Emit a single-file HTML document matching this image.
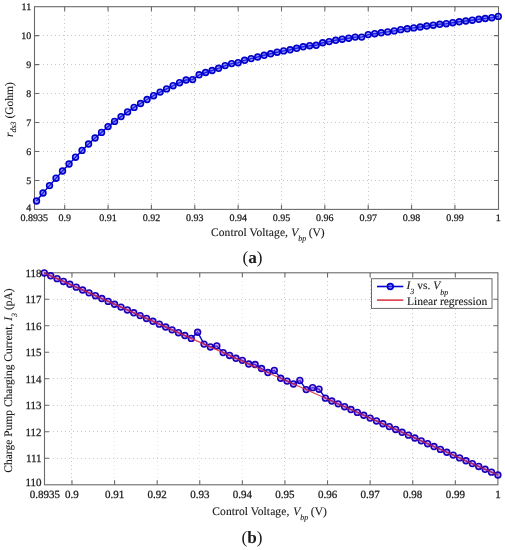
<!DOCTYPE html>
<html><head><meta charset="utf-8"><title>Plots</title>
<style>html,body{margin:0;padding:0;background:#fff;width:505px;height:550px;overflow:hidden}svg{display:block}</style>
</head><body>
<svg width="505" height="550" viewBox="0 0 505 550">
<style>.g{stroke:#c8c8c8;stroke-width:1;stroke-dasharray:1 3;fill:none}.ax{stroke:#6a6a6a;stroke-width:1.1;fill:none}.lb{stroke-width:0.12px}text{font-family:'Liberation Serif', 'Times New Roman', serif;fill:#1a1a1a;stroke:#1a1a1a;stroke-width:0.25px;text-rendering:geometricPrecision}</style>
<rect width="505" height="550" fill="#fff"/>
<line x1="64.5" y1="7" x2="64.5" y2="209.4" class="g"/>
<line x1="108.5" y1="7" x2="108.5" y2="209.4" class="g"/>
<line x1="151.5" y1="7" x2="151.5" y2="209.4" class="g"/>
<line x1="194.5" y1="7" x2="194.5" y2="209.4" class="g"/>
<line x1="238.5" y1="7" x2="238.5" y2="209.4" class="g"/>
<line x1="281.5" y1="7" x2="281.5" y2="209.4" class="g"/>
<line x1="324.5" y1="7" x2="324.5" y2="209.4" class="g"/>
<line x1="368.5" y1="7" x2="368.5" y2="209.4" class="g"/>
<line x1="411.5" y1="7" x2="411.5" y2="209.4" class="g"/>
<line x1="454.5" y1="7" x2="454.5" y2="209.4" class="g"/>
<line x1="35" y1="180.5" x2="498.5" y2="180.5" class="g"/>
<line x1="35" y1="151.5" x2="498.5" y2="151.5" class="g"/>
<line x1="35" y1="122.5" x2="498.5" y2="122.5" class="g"/>
<line x1="35" y1="93.5" x2="498.5" y2="93.5" class="g"/>
<line x1="35" y1="64.5" x2="498.5" y2="64.5" class="g"/>
<line x1="35" y1="35.5" x2="498.5" y2="35.5" class="g"/>
<path d="M64.7 209.4V204.8M64.7 6.7V11.3M108.06 209.4V204.8M108.06 6.7V11.3M151.42 209.4V204.8M151.42 6.7V11.3M194.78 209.4V204.8M194.78 6.7V11.3M238.14 209.4V204.8M238.14 6.7V11.3M281.5 209.4V204.8M281.5 6.7V11.3M324.86 209.4V204.8M324.86 6.7V11.3M368.22 209.4V204.8M368.22 6.7V11.3M411.58 209.4V204.8M411.58 6.7V11.3M454.94 209.4V204.8M454.94 6.7V11.3M34.5 180.44H39.1M498.5 180.44H493.9M34.5 151.49H39.1M498.5 151.49H493.9M34.5 122.53H39.1M498.5 122.53H493.9M34.5 93.57H39.1M498.5 93.57H493.9M34.5 64.61H39.1M498.5 64.61H493.9M34.5 35.66H39.1M498.5 35.66H493.9" class="ax"/>
<rect x="34.5" y="6.7" width="464" height="202.7" class="ax" fill="none"/>
<polyline points="36.52,201 43.02,193 49.53,185.6 56.03,178.2 62.53,171 69.04,164 75.54,157.2 82.05,150.4 88.55,144 95.05,138 101.56,132.4 108.06,126.6 114.57,121.4 121.07,116.6 127.57,111.9 134.08,107.4 140.58,103.5 147.09,99.5 153.59,95.7 160.09,92.1 166.6,88.9 173.1,85.7 179.61,82.7 186.11,80 192.61,79.6 199.12,74.8 205.62,72.5 212.13,70.5 218.63,68.3 225.13,65.6 231.64,63.6 238.14,62.7 244.65,60.3 251.15,58.6 257.65,57 264.16,55.3 270.66,53.8 277.17,52.2 283.67,50.9 290.17,49.8 296.68,48.3 303.18,46.8 309.69,45.7 316.19,45.3 322.69,42.75 329.2,41.6 335.7,40.3 342.21,39.2 348.71,38.2 355.21,37.1 361.72,37.1 368.22,34.6 374.73,33.7 381.23,32.8 387.73,31.9 394.24,30.9 400.74,29.65 407.25,28.8 413.75,27.9 420.25,27 426.76,26 433.26,25.2 439.77,24.3 446.27,23.7 452.77,22.7 459.28,21.8 465.78,21 472.29,20.2 478.79,19.3 485.29,18.5 491.8,17.7 498.3,16.4" fill="none" stroke="#0000d4" stroke-width="1.4"/>
<circle cx="36.52" cy="201" r="2.9" fill="#3c3cff" fill-opacity="0.5" stroke="#0000c8" stroke-width="1.6"/>
<circle cx="43.02" cy="193" r="2.9" fill="#3c3cff" fill-opacity="0.5" stroke="#0000c8" stroke-width="1.6"/>
<circle cx="49.53" cy="185.6" r="2.9" fill="#3c3cff" fill-opacity="0.5" stroke="#0000c8" stroke-width="1.6"/>
<circle cx="56.03" cy="178.2" r="2.9" fill="#3c3cff" fill-opacity="0.5" stroke="#0000c8" stroke-width="1.6"/>
<circle cx="62.53" cy="171" r="2.9" fill="#3c3cff" fill-opacity="0.5" stroke="#0000c8" stroke-width="1.6"/>
<circle cx="69.04" cy="164" r="2.9" fill="#3c3cff" fill-opacity="0.5" stroke="#0000c8" stroke-width="1.6"/>
<circle cx="75.54" cy="157.2" r="2.9" fill="#3c3cff" fill-opacity="0.5" stroke="#0000c8" stroke-width="1.6"/>
<circle cx="82.05" cy="150.4" r="2.9" fill="#3c3cff" fill-opacity="0.5" stroke="#0000c8" stroke-width="1.6"/>
<circle cx="88.55" cy="144" r="2.9" fill="#3c3cff" fill-opacity="0.5" stroke="#0000c8" stroke-width="1.6"/>
<circle cx="95.05" cy="138" r="2.9" fill="#3c3cff" fill-opacity="0.5" stroke="#0000c8" stroke-width="1.6"/>
<circle cx="101.56" cy="132.4" r="2.9" fill="#3c3cff" fill-opacity="0.5" stroke="#0000c8" stroke-width="1.6"/>
<circle cx="108.06" cy="126.6" r="2.9" fill="#3c3cff" fill-opacity="0.5" stroke="#0000c8" stroke-width="1.6"/>
<circle cx="114.57" cy="121.4" r="2.9" fill="#3c3cff" fill-opacity="0.5" stroke="#0000c8" stroke-width="1.6"/>
<circle cx="121.07" cy="116.6" r="2.9" fill="#3c3cff" fill-opacity="0.5" stroke="#0000c8" stroke-width="1.6"/>
<circle cx="127.57" cy="111.9" r="2.9" fill="#3c3cff" fill-opacity="0.5" stroke="#0000c8" stroke-width="1.6"/>
<circle cx="134.08" cy="107.4" r="2.9" fill="#3c3cff" fill-opacity="0.5" stroke="#0000c8" stroke-width="1.6"/>
<circle cx="140.58" cy="103.5" r="2.9" fill="#3c3cff" fill-opacity="0.5" stroke="#0000c8" stroke-width="1.6"/>
<circle cx="147.09" cy="99.5" r="2.9" fill="#3c3cff" fill-opacity="0.5" stroke="#0000c8" stroke-width="1.6"/>
<circle cx="153.59" cy="95.7" r="2.9" fill="#3c3cff" fill-opacity="0.5" stroke="#0000c8" stroke-width="1.6"/>
<circle cx="160.09" cy="92.1" r="2.9" fill="#3c3cff" fill-opacity="0.5" stroke="#0000c8" stroke-width="1.6"/>
<circle cx="166.6" cy="88.9" r="2.9" fill="#3c3cff" fill-opacity="0.5" stroke="#0000c8" stroke-width="1.6"/>
<circle cx="173.1" cy="85.7" r="2.9" fill="#3c3cff" fill-opacity="0.5" stroke="#0000c8" stroke-width="1.6"/>
<circle cx="179.61" cy="82.7" r="2.9" fill="#3c3cff" fill-opacity="0.5" stroke="#0000c8" stroke-width="1.6"/>
<circle cx="186.11" cy="80" r="2.9" fill="#3c3cff" fill-opacity="0.5" stroke="#0000c8" stroke-width="1.6"/>
<circle cx="192.61" cy="79.6" r="2.9" fill="#3c3cff" fill-opacity="0.5" stroke="#0000c8" stroke-width="1.6"/>
<circle cx="199.12" cy="74.8" r="2.9" fill="#3c3cff" fill-opacity="0.5" stroke="#0000c8" stroke-width="1.6"/>
<circle cx="205.62" cy="72.5" r="2.9" fill="#3c3cff" fill-opacity="0.5" stroke="#0000c8" stroke-width="1.6"/>
<circle cx="212.13" cy="70.5" r="2.9" fill="#3c3cff" fill-opacity="0.5" stroke="#0000c8" stroke-width="1.6"/>
<circle cx="218.63" cy="68.3" r="2.9" fill="#3c3cff" fill-opacity="0.5" stroke="#0000c8" stroke-width="1.6"/>
<circle cx="225.13" cy="65.6" r="2.9" fill="#3c3cff" fill-opacity="0.5" stroke="#0000c8" stroke-width="1.6"/>
<circle cx="231.64" cy="63.6" r="2.9" fill="#3c3cff" fill-opacity="0.5" stroke="#0000c8" stroke-width="1.6"/>
<circle cx="238.14" cy="62.7" r="2.9" fill="#3c3cff" fill-opacity="0.5" stroke="#0000c8" stroke-width="1.6"/>
<circle cx="244.65" cy="60.3" r="2.9" fill="#3c3cff" fill-opacity="0.5" stroke="#0000c8" stroke-width="1.6"/>
<circle cx="251.15" cy="58.6" r="2.9" fill="#3c3cff" fill-opacity="0.5" stroke="#0000c8" stroke-width="1.6"/>
<circle cx="257.65" cy="57" r="2.9" fill="#3c3cff" fill-opacity="0.5" stroke="#0000c8" stroke-width="1.6"/>
<circle cx="264.16" cy="55.3" r="2.9" fill="#3c3cff" fill-opacity="0.5" stroke="#0000c8" stroke-width="1.6"/>
<circle cx="270.66" cy="53.8" r="2.9" fill="#3c3cff" fill-opacity="0.5" stroke="#0000c8" stroke-width="1.6"/>
<circle cx="277.17" cy="52.2" r="2.9" fill="#3c3cff" fill-opacity="0.5" stroke="#0000c8" stroke-width="1.6"/>
<circle cx="283.67" cy="50.9" r="2.9" fill="#3c3cff" fill-opacity="0.5" stroke="#0000c8" stroke-width="1.6"/>
<circle cx="290.17" cy="49.8" r="2.9" fill="#3c3cff" fill-opacity="0.5" stroke="#0000c8" stroke-width="1.6"/>
<circle cx="296.68" cy="48.3" r="2.9" fill="#3c3cff" fill-opacity="0.5" stroke="#0000c8" stroke-width="1.6"/>
<circle cx="303.18" cy="46.8" r="2.9" fill="#3c3cff" fill-opacity="0.5" stroke="#0000c8" stroke-width="1.6"/>
<circle cx="309.69" cy="45.7" r="2.9" fill="#3c3cff" fill-opacity="0.5" stroke="#0000c8" stroke-width="1.6"/>
<circle cx="316.19" cy="45.3" r="2.9" fill="#3c3cff" fill-opacity="0.5" stroke="#0000c8" stroke-width="1.6"/>
<circle cx="322.69" cy="42.75" r="2.9" fill="#3c3cff" fill-opacity="0.5" stroke="#0000c8" stroke-width="1.6"/>
<circle cx="329.2" cy="41.6" r="2.9" fill="#3c3cff" fill-opacity="0.5" stroke="#0000c8" stroke-width="1.6"/>
<circle cx="335.7" cy="40.3" r="2.9" fill="#3c3cff" fill-opacity="0.5" stroke="#0000c8" stroke-width="1.6"/>
<circle cx="342.21" cy="39.2" r="2.9" fill="#3c3cff" fill-opacity="0.5" stroke="#0000c8" stroke-width="1.6"/>
<circle cx="348.71" cy="38.2" r="2.9" fill="#3c3cff" fill-opacity="0.5" stroke="#0000c8" stroke-width="1.6"/>
<circle cx="355.21" cy="37.1" r="2.9" fill="#3c3cff" fill-opacity="0.5" stroke="#0000c8" stroke-width="1.6"/>
<circle cx="361.72" cy="37.1" r="2.9" fill="#3c3cff" fill-opacity="0.5" stroke="#0000c8" stroke-width="1.6"/>
<circle cx="368.22" cy="34.6" r="2.9" fill="#3c3cff" fill-opacity="0.5" stroke="#0000c8" stroke-width="1.6"/>
<circle cx="374.73" cy="33.7" r="2.9" fill="#3c3cff" fill-opacity="0.5" stroke="#0000c8" stroke-width="1.6"/>
<circle cx="381.23" cy="32.8" r="2.9" fill="#3c3cff" fill-opacity="0.5" stroke="#0000c8" stroke-width="1.6"/>
<circle cx="387.73" cy="31.9" r="2.9" fill="#3c3cff" fill-opacity="0.5" stroke="#0000c8" stroke-width="1.6"/>
<circle cx="394.24" cy="30.9" r="2.9" fill="#3c3cff" fill-opacity="0.5" stroke="#0000c8" stroke-width="1.6"/>
<circle cx="400.74" cy="29.65" r="2.9" fill="#3c3cff" fill-opacity="0.5" stroke="#0000c8" stroke-width="1.6"/>
<circle cx="407.25" cy="28.8" r="2.9" fill="#3c3cff" fill-opacity="0.5" stroke="#0000c8" stroke-width="1.6"/>
<circle cx="413.75" cy="27.9" r="2.9" fill="#3c3cff" fill-opacity="0.5" stroke="#0000c8" stroke-width="1.6"/>
<circle cx="420.25" cy="27" r="2.9" fill="#3c3cff" fill-opacity="0.5" stroke="#0000c8" stroke-width="1.6"/>
<circle cx="426.76" cy="26" r="2.9" fill="#3c3cff" fill-opacity="0.5" stroke="#0000c8" stroke-width="1.6"/>
<circle cx="433.26" cy="25.2" r="2.9" fill="#3c3cff" fill-opacity="0.5" stroke="#0000c8" stroke-width="1.6"/>
<circle cx="439.77" cy="24.3" r="2.9" fill="#3c3cff" fill-opacity="0.5" stroke="#0000c8" stroke-width="1.6"/>
<circle cx="446.27" cy="23.7" r="2.9" fill="#3c3cff" fill-opacity="0.5" stroke="#0000c8" stroke-width="1.6"/>
<circle cx="452.77" cy="22.7" r="2.9" fill="#3c3cff" fill-opacity="0.5" stroke="#0000c8" stroke-width="1.6"/>
<circle cx="459.28" cy="21.8" r="2.9" fill="#3c3cff" fill-opacity="0.5" stroke="#0000c8" stroke-width="1.6"/>
<circle cx="465.78" cy="21" r="2.9" fill="#3c3cff" fill-opacity="0.5" stroke="#0000c8" stroke-width="1.6"/>
<circle cx="472.29" cy="20.2" r="2.9" fill="#3c3cff" fill-opacity="0.5" stroke="#0000c8" stroke-width="1.6"/>
<circle cx="478.79" cy="19.3" r="2.9" fill="#3c3cff" fill-opacity="0.5" stroke="#0000c8" stroke-width="1.6"/>
<circle cx="485.29" cy="18.5" r="2.9" fill="#3c3cff" fill-opacity="0.5" stroke="#0000c8" stroke-width="1.6"/>
<circle cx="491.8" cy="17.7" r="2.9" fill="#3c3cff" fill-opacity="0.5" stroke="#0000c8" stroke-width="1.6"/>
<circle cx="498.3" cy="16.4" r="2.9" fill="#3c3cff" fill-opacity="0.5" stroke="#0000c8" stroke-width="1.6"/>
<text x="31.2" y="210.8" font-size="10" text-anchor="end">4</text>
<text x="31.2" y="183.84" font-size="10" text-anchor="end">5</text>
<text x="31.2" y="154.89" font-size="10" text-anchor="end">6</text>
<text x="31.2" y="125.93" font-size="10" text-anchor="end">7</text>
<text x="31.2" y="96.97" font-size="10" text-anchor="end">8</text>
<text x="31.2" y="68.01" font-size="10" text-anchor="end">9</text>
<text x="31.2" y="39.06" font-size="10" text-anchor="end">10</text>
<text x="31.2" y="10.1" font-size="10" text-anchor="end">11</text>
<text x="34.2" y="220.6" font-size="10" text-anchor="middle">0.8935</text>
<text x="64.7" y="220.6" font-size="10" text-anchor="middle">0.9</text>
<text x="108.06" y="220.6" font-size="10" text-anchor="middle">0.91</text>
<text x="151.42" y="220.6" font-size="10" text-anchor="middle">0.92</text>
<text x="194.78" y="220.6" font-size="10" text-anchor="middle">0.93</text>
<text x="238.14" y="220.6" font-size="10" text-anchor="middle">0.94</text>
<text x="281.5" y="220.6" font-size="10" text-anchor="middle">0.95</text>
<text x="324.86" y="220.6" font-size="10" text-anchor="middle">0.96</text>
<text x="368.22" y="220.6" font-size="10" text-anchor="middle">0.97</text>
<text x="411.58" y="220.6" font-size="10" text-anchor="middle">0.98</text>
<text x="454.94" y="220.6" font-size="10" text-anchor="middle">0.99</text>
<text x="498.3" y="220.6" font-size="10" text-anchor="middle">1</text>
<text class="lb" x="211" y="235.8" font-size="11.5"><tspan letter-spacing="0.09">Control Voltage,</tspan> <tspan font-style="italic" dx="0.4">V</tspan><tspan font-style="italic" font-size="8" dy="5">bp</tspan><tspan dy="-5" dx="-0.5"> (V)</tspan></text>
<text x="242.5" y="262.7" font-size="17.2" style="stroke:none">(<tspan font-weight="bold">a</tspan>)</text>
<text transform="translate(12.6,137) rotate(-90)" class="lb" font-size="11.5"><tspan font-style="italic">r</tspan><tspan font-style="italic" font-size="8" dy="3.8">ds3</tspan><tspan dy="-3.8"> (Gohm)</tspan></text>
<line x1="71.5" y1="273" x2="71.5" y2="484.8" class="g"/>
<line x1="114.5" y1="273" x2="114.5" y2="484.8" class="g" style="stroke:#e2e2e2"/>
<line x1="157.5" y1="273" x2="157.5" y2="484.8" class="g" style="stroke:#e2e2e2"/>
<line x1="199.5" y1="273" x2="199.5" y2="484.8" class="g" style="stroke:#e2e2e2"/>
<line x1="242.5" y1="273" x2="242.5" y2="484.8" class="g" style="stroke:#e2e2e2"/>
<line x1="284.5" y1="273" x2="284.5" y2="484.8" class="g"/>
<line x1="327.5" y1="273" x2="327.5" y2="484.8" class="g"/>
<line x1="370.5" y1="273" x2="370.5" y2="484.8" class="g"/>
<line x1="412.5" y1="273" x2="412.5" y2="484.8" class="g"/>
<line x1="455.5" y1="273" x2="455.5" y2="484.8" class="g"/>
<line x1="45" y1="458.5" x2="497.9" y2="458.5" class="g"/>
<line x1="45" y1="431.5" x2="497.9" y2="431.5" class="g"/>
<line x1="45" y1="405.5" x2="497.9" y2="405.5" class="g"/>
<line x1="45" y1="378.5" x2="497.9" y2="378.5" class="g"/>
<line x1="45" y1="352.5" x2="497.9" y2="352.5" class="g" style="stroke:#ececec"/>
<line x1="45" y1="325.5" x2="497.9" y2="325.5" class="g"/>
<line x1="45" y1="299.5" x2="497.9" y2="299.5" class="g"/>
<path d="M71.98 484.8V480.3M71.98 272.8V277.3M114.58 484.8V480.3M114.58 272.8V277.3M157.17 484.8V480.3M157.17 272.8V277.3M199.76 484.8V480.3M199.76 272.8V277.3M242.35 484.8V480.3M242.35 272.8V277.3M284.94 484.8V480.3M284.94 272.8V277.3M327.53 484.8V480.3M327.53 272.8V277.3M370.13 484.8V480.3M370.13 272.8V277.3M412.72 484.8V480.3M412.72 272.8V277.3M455.31 484.8V480.3M455.31 272.8V277.3M44.5 458.3H49M497.9 458.3H493.4M44.5 431.8H49M497.9 431.8H493.4M44.5 405.3H49M497.9 405.3H493.4M44.5 378.8H49M497.9 378.8H493.4M44.5 352.3H49M497.9 352.3H493.4M44.5 325.8H49M497.9 325.8H493.4M44.5 299.3H49M497.9 299.3H493.4" class="ax"/>
<rect x="44.5" y="272.8" width="453.4" height="212" class="ax" fill="none"/>
<polyline points="44.3,272.93 50.69,275.78 57.08,278.63 63.47,281.47 69.85,284.32 76.24,287.16 82.63,290.01 89.02,292.86 95.41,295.7 101.8,298.55 108.19,301.39 114.58,304.24 120.96,307.09 127.35,309.93 133.74,312.78 140.13,315.62 146.52,318.47 152.91,321.32 159.3,324.16 165.69,327.01 172.07,329.85 178.46,332.7 184.85,335.55 191.24,338.39 197.63,332.24 204.02,344.08 210.41,346.93 216.8,345.88 223.18,352.62 229.57,355.47 235.96,358.31 242.35,360.36 248.74,364.01 255.13,364.55 261.52,368.5 267.91,372.54 274.29,370.39 280.68,378.24 287.07,381.08 293.46,383.93 299.85,380.47 306.24,389.62 312.63,387.67 319.02,389.21 325.4,398.16 331.79,401 338.18,403.85 344.57,406.7 350.96,409.54 357.35,412.39 363.74,415.23 370.13,418.08 376.51,420.93 382.9,423.77 389.29,426.62 395.68,429.46 402.07,432.31 408.46,435.16 414.85,438 421.24,440.85 427.62,443.69 434.01,446.54 440.4,449.39 446.79,452.23 453.18,455.08 459.57,457.92 465.96,460.77 472.35,463.62 478.73,466.46 485.12,469.31 491.51,472.15 497.9,475" fill="none" stroke="#0000d4" stroke-width="1.4"/>
<circle cx="44.3" cy="272.93" r="2.9" fill="#a050f0" fill-opacity="0.45" stroke="#1a00b8" stroke-width="1.6"/>
<circle cx="50.69" cy="275.78" r="2.9" fill="#a050f0" fill-opacity="0.45" stroke="#1a00b8" stroke-width="1.6"/>
<circle cx="57.08" cy="278.63" r="2.9" fill="#a050f0" fill-opacity="0.45" stroke="#1a00b8" stroke-width="1.6"/>
<circle cx="63.47" cy="281.47" r="2.9" fill="#a050f0" fill-opacity="0.45" stroke="#1a00b8" stroke-width="1.6"/>
<circle cx="69.85" cy="284.32" r="2.9" fill="#a050f0" fill-opacity="0.45" stroke="#1a00b8" stroke-width="1.6"/>
<circle cx="76.24" cy="287.16" r="2.9" fill="#a050f0" fill-opacity="0.45" stroke="#1a00b8" stroke-width="1.6"/>
<circle cx="82.63" cy="290.01" r="2.9" fill="#a050f0" fill-opacity="0.45" stroke="#1a00b8" stroke-width="1.6"/>
<circle cx="89.02" cy="292.86" r="2.9" fill="#a050f0" fill-opacity="0.45" stroke="#1a00b8" stroke-width="1.6"/>
<circle cx="95.41" cy="295.7" r="2.9" fill="#a050f0" fill-opacity="0.45" stroke="#1a00b8" stroke-width="1.6"/>
<circle cx="101.8" cy="298.55" r="2.9" fill="#a050f0" fill-opacity="0.45" stroke="#1a00b8" stroke-width="1.6"/>
<circle cx="108.19" cy="301.39" r="2.9" fill="#a050f0" fill-opacity="0.45" stroke="#1a00b8" stroke-width="1.6"/>
<circle cx="114.58" cy="304.24" r="2.9" fill="#a050f0" fill-opacity="0.45" stroke="#1a00b8" stroke-width="1.6"/>
<circle cx="120.96" cy="307.09" r="2.9" fill="#a050f0" fill-opacity="0.45" stroke="#1a00b8" stroke-width="1.6"/>
<circle cx="127.35" cy="309.93" r="2.9" fill="#a050f0" fill-opacity="0.45" stroke="#1a00b8" stroke-width="1.6"/>
<circle cx="133.74" cy="312.78" r="2.9" fill="#a050f0" fill-opacity="0.45" stroke="#1a00b8" stroke-width="1.6"/>
<circle cx="140.13" cy="315.62" r="2.9" fill="#a050f0" fill-opacity="0.45" stroke="#1a00b8" stroke-width="1.6"/>
<circle cx="146.52" cy="318.47" r="2.9" fill="#a050f0" fill-opacity="0.45" stroke="#1a00b8" stroke-width="1.6"/>
<circle cx="152.91" cy="321.32" r="2.9" fill="#a050f0" fill-opacity="0.45" stroke="#1a00b8" stroke-width="1.6"/>
<circle cx="159.3" cy="324.16" r="2.9" fill="#a050f0" fill-opacity="0.45" stroke="#1a00b8" stroke-width="1.6"/>
<circle cx="165.69" cy="327.01" r="2.9" fill="#a050f0" fill-opacity="0.45" stroke="#1a00b8" stroke-width="1.6"/>
<circle cx="172.07" cy="329.85" r="2.9" fill="#a050f0" fill-opacity="0.45" stroke="#1a00b8" stroke-width="1.6"/>
<circle cx="178.46" cy="332.7" r="2.9" fill="#a050f0" fill-opacity="0.45" stroke="#1a00b8" stroke-width="1.6"/>
<circle cx="184.85" cy="335.55" r="2.9" fill="#a050f0" fill-opacity="0.45" stroke="#1a00b8" stroke-width="1.6"/>
<circle cx="191.24" cy="338.39" r="2.9" fill="#a050f0" fill-opacity="0.45" stroke="#1a00b8" stroke-width="1.6"/>
<circle cx="197.63" cy="332.24" r="2.9" fill="#a050f0" fill-opacity="0.45" stroke="#1a00b8" stroke-width="1.6"/>
<circle cx="204.02" cy="344.08" r="2.9" fill="#a050f0" fill-opacity="0.45" stroke="#1a00b8" stroke-width="1.6"/>
<circle cx="210.41" cy="346.93" r="2.9" fill="#a050f0" fill-opacity="0.45" stroke="#1a00b8" stroke-width="1.6"/>
<circle cx="216.8" cy="345.88" r="2.9" fill="#a050f0" fill-opacity="0.45" stroke="#1a00b8" stroke-width="1.6"/>
<circle cx="223.18" cy="352.62" r="2.9" fill="#a050f0" fill-opacity="0.45" stroke="#1a00b8" stroke-width="1.6"/>
<circle cx="229.57" cy="355.47" r="2.9" fill="#a050f0" fill-opacity="0.45" stroke="#1a00b8" stroke-width="1.6"/>
<circle cx="235.96" cy="358.31" r="2.9" fill="#a050f0" fill-opacity="0.45" stroke="#1a00b8" stroke-width="1.6"/>
<circle cx="242.35" cy="360.36" r="2.9" fill="#a050f0" fill-opacity="0.45" stroke="#1a00b8" stroke-width="1.6"/>
<circle cx="248.74" cy="364.01" r="2.9" fill="#a050f0" fill-opacity="0.45" stroke="#1a00b8" stroke-width="1.6"/>
<circle cx="255.13" cy="364.55" r="2.9" fill="#a050f0" fill-opacity="0.45" stroke="#1a00b8" stroke-width="1.6"/>
<circle cx="261.52" cy="368.5" r="2.9" fill="#a050f0" fill-opacity="0.45" stroke="#1a00b8" stroke-width="1.6"/>
<circle cx="267.91" cy="372.54" r="2.9" fill="#a050f0" fill-opacity="0.45" stroke="#1a00b8" stroke-width="1.6"/>
<circle cx="274.29" cy="370.39" r="2.9" fill="#a050f0" fill-opacity="0.45" stroke="#1a00b8" stroke-width="1.6"/>
<circle cx="280.68" cy="378.24" r="2.9" fill="#a050f0" fill-opacity="0.45" stroke="#1a00b8" stroke-width="1.6"/>
<circle cx="287.07" cy="381.08" r="2.9" fill="#a050f0" fill-opacity="0.45" stroke="#1a00b8" stroke-width="1.6"/>
<circle cx="293.46" cy="383.93" r="2.9" fill="#a050f0" fill-opacity="0.45" stroke="#1a00b8" stroke-width="1.6"/>
<circle cx="299.85" cy="380.47" r="2.9" fill="#a050f0" fill-opacity="0.45" stroke="#1a00b8" stroke-width="1.6"/>
<circle cx="306.24" cy="389.62" r="2.9" fill="#a050f0" fill-opacity="0.45" stroke="#1a00b8" stroke-width="1.6"/>
<circle cx="312.63" cy="387.67" r="2.9" fill="#a050f0" fill-opacity="0.45" stroke="#1a00b8" stroke-width="1.6"/>
<circle cx="319.02" cy="389.21" r="2.9" fill="#a050f0" fill-opacity="0.45" stroke="#1a00b8" stroke-width="1.6"/>
<circle cx="325.4" cy="398.16" r="2.9" fill="#a050f0" fill-opacity="0.45" stroke="#1a00b8" stroke-width="1.6"/>
<circle cx="331.79" cy="401" r="2.9" fill="#a050f0" fill-opacity="0.45" stroke="#1a00b8" stroke-width="1.6"/>
<circle cx="338.18" cy="403.85" r="2.9" fill="#a050f0" fill-opacity="0.45" stroke="#1a00b8" stroke-width="1.6"/>
<circle cx="344.57" cy="406.7" r="2.9" fill="#a050f0" fill-opacity="0.45" stroke="#1a00b8" stroke-width="1.6"/>
<circle cx="350.96" cy="409.54" r="2.9" fill="#a050f0" fill-opacity="0.45" stroke="#1a00b8" stroke-width="1.6"/>
<circle cx="357.35" cy="412.39" r="2.9" fill="#a050f0" fill-opacity="0.45" stroke="#1a00b8" stroke-width="1.6"/>
<circle cx="363.74" cy="415.23" r="2.9" fill="#a050f0" fill-opacity="0.45" stroke="#1a00b8" stroke-width="1.6"/>
<circle cx="370.13" cy="418.08" r="2.9" fill="#a050f0" fill-opacity="0.45" stroke="#1a00b8" stroke-width="1.6"/>
<circle cx="376.51" cy="420.93" r="2.9" fill="#a050f0" fill-opacity="0.45" stroke="#1a00b8" stroke-width="1.6"/>
<circle cx="382.9" cy="423.77" r="2.9" fill="#a050f0" fill-opacity="0.45" stroke="#1a00b8" stroke-width="1.6"/>
<circle cx="389.29" cy="426.62" r="2.9" fill="#a050f0" fill-opacity="0.45" stroke="#1a00b8" stroke-width="1.6"/>
<circle cx="395.68" cy="429.46" r="2.9" fill="#a050f0" fill-opacity="0.45" stroke="#1a00b8" stroke-width="1.6"/>
<circle cx="402.07" cy="432.31" r="2.9" fill="#a050f0" fill-opacity="0.45" stroke="#1a00b8" stroke-width="1.6"/>
<circle cx="408.46" cy="435.16" r="2.9" fill="#a050f0" fill-opacity="0.45" stroke="#1a00b8" stroke-width="1.6"/>
<circle cx="414.85" cy="438" r="2.9" fill="#a050f0" fill-opacity="0.45" stroke="#1a00b8" stroke-width="1.6"/>
<circle cx="421.24" cy="440.85" r="2.9" fill="#a050f0" fill-opacity="0.45" stroke="#1a00b8" stroke-width="1.6"/>
<circle cx="427.62" cy="443.69" r="2.9" fill="#a050f0" fill-opacity="0.45" stroke="#1a00b8" stroke-width="1.6"/>
<circle cx="434.01" cy="446.54" r="2.9" fill="#a050f0" fill-opacity="0.45" stroke="#1a00b8" stroke-width="1.6"/>
<circle cx="440.4" cy="449.39" r="2.9" fill="#a050f0" fill-opacity="0.45" stroke="#1a00b8" stroke-width="1.6"/>
<circle cx="446.79" cy="452.23" r="2.9" fill="#a050f0" fill-opacity="0.45" stroke="#1a00b8" stroke-width="1.6"/>
<circle cx="453.18" cy="455.08" r="2.9" fill="#a050f0" fill-opacity="0.45" stroke="#1a00b8" stroke-width="1.6"/>
<circle cx="459.57" cy="457.92" r="2.9" fill="#a050f0" fill-opacity="0.45" stroke="#1a00b8" stroke-width="1.6"/>
<circle cx="465.96" cy="460.77" r="2.9" fill="#a050f0" fill-opacity="0.45" stroke="#1a00b8" stroke-width="1.6"/>
<circle cx="472.35" cy="463.62" r="2.9" fill="#a050f0" fill-opacity="0.45" stroke="#1a00b8" stroke-width="1.6"/>
<circle cx="478.73" cy="466.46" r="2.9" fill="#a050f0" fill-opacity="0.45" stroke="#1a00b8" stroke-width="1.6"/>
<circle cx="485.12" cy="469.31" r="2.9" fill="#a050f0" fill-opacity="0.45" stroke="#1a00b8" stroke-width="1.6"/>
<circle cx="491.51" cy="472.15" r="2.9" fill="#a050f0" fill-opacity="0.45" stroke="#1a00b8" stroke-width="1.6"/>
<circle cx="497.9" cy="475" r="2.9" fill="#a050f0" fill-opacity="0.45" stroke="#1a00b8" stroke-width="1.6"/>
<line x1="44.3" y1="272.93" x2="497.9" y2="475" stroke="#d82838" stroke-width="1.25" stroke-opacity="0.85"/>
<text x="41.6" y="486.1" font-size="11" text-anchor="end">110</text>
<text x="41.6" y="462.1" font-size="11" text-anchor="end">111</text>
<text x="41.6" y="435.6" font-size="11" text-anchor="end">112</text>
<text x="41.6" y="409.1" font-size="11" text-anchor="end">113</text>
<text x="41.6" y="382.6" font-size="11" text-anchor="end">114</text>
<text x="41.6" y="356.1" font-size="11" text-anchor="end">115</text>
<text x="41.6" y="329.6" font-size="11" text-anchor="end">116</text>
<text x="41.6" y="303.1" font-size="11" text-anchor="end">117</text>
<text x="41.6" y="276.6" font-size="11" text-anchor="end">118</text>
<text x="44.8" y="497.6" font-size="11" text-anchor="middle">0.8935</text>
<text x="71.98" y="497.6" font-size="11" text-anchor="middle">0.9</text>
<text x="114.58" y="497.6" font-size="11" text-anchor="middle">0.91</text>
<text x="157.17" y="497.6" font-size="11" text-anchor="middle">0.92</text>
<text x="199.76" y="497.6" font-size="11" text-anchor="middle">0.93</text>
<text x="242.35" y="497.6" font-size="11" text-anchor="middle">0.94</text>
<text x="284.94" y="497.6" font-size="11" text-anchor="middle">0.95</text>
<text x="327.53" y="497.6" font-size="11" text-anchor="middle">0.96</text>
<text x="370.13" y="497.6" font-size="11" text-anchor="middle">0.97</text>
<text x="412.72" y="497.6" font-size="11" text-anchor="middle">0.98</text>
<text x="455.31" y="497.6" font-size="11" text-anchor="middle">0.99</text>
<text x="497.9" y="497.6" font-size="11" text-anchor="middle">1</text>
<text class="lb" x="212.3" y="515.3" font-size="11.5"><tspan letter-spacing="0.09">Control Voltage,</tspan> <tspan font-style="italic" dx="1">V</tspan><tspan font-style="italic" font-size="8" dy="5">bp</tspan><tspan dy="-5" dx="-0.3"> (V)</tspan></text>
<text x="241.5" y="543" font-size="17.2" style="stroke:none">(<tspan font-weight="bold">b</tspan>)</text>
<text transform="translate(12.3,472.7) rotate(-90)" class="lb" font-size="11.5">Charge Pump Charging Current, <tspan font-style="italic">I</tspan><tspan font-style="italic" font-size="8" dy="4.3">3</tspan><tspan dy="-4.3"> (pA)</tspan></text>
<rect x="371.5" y="278.7" width="120.5" height="29.7" fill="#fff" stroke="#6a6a6a" stroke-width="1"/>
<line x1="377" y1="286.5" x2="403.3" y2="286.5" stroke="#0000d4" stroke-width="1.6"/>
<circle cx="390.3" cy="286.5" r="2.9" fill="#3c3cff" fill-opacity="0.5" stroke="#0000c8" stroke-width="1.6"/>
<line x1="377" y1="300.1" x2="403.3" y2="300.1" stroke="#d42030" stroke-width="1.4"/>
<text class="lb" x="406.5" y="289.4" font-size="11.5"><tspan font-style="italic">I</tspan><tspan font-style="italic" font-size="8" dy="5">3</tspan><tspan dy="-5"> vs. </tspan><tspan font-style="italic">V</tspan><tspan font-style="italic" font-size="8" dy="5.2">bp</tspan></text>
<text class="lb" x="407" y="305" font-size="11.5">Linear regression</text>
</svg>
</body></html>
